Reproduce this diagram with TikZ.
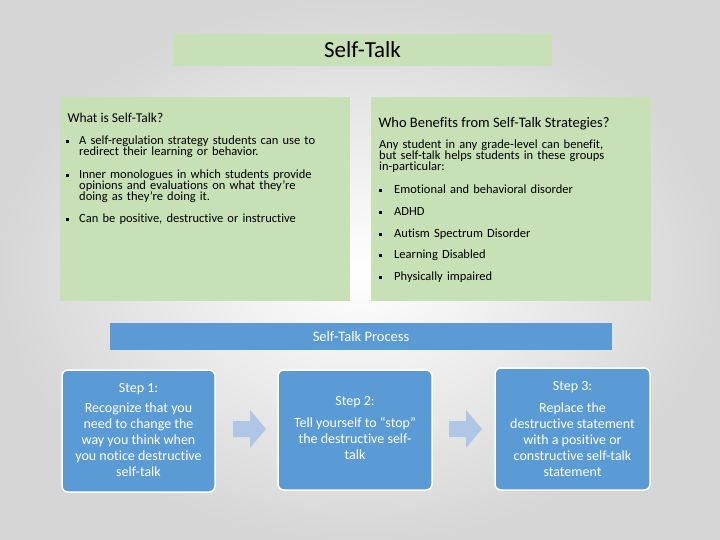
\documentclass[tikz,border=0pt]{standalone}
\usepackage{fontspec}
\setmainfont{Carlito}[Ligatures=NoCommon]
\definecolor{grn}{HTML}{C8E0B6}
\definecolor{blu}{HTML}{5B9BD5}
\definecolor{arr}{HTML}{AFC6E6}
\newcommand{\sq}{\raisebox{1.5pt}{\rule{3pt}{3pt}}}
\tikzset{
 panel/.style={fill=grn,draw=none},
 stepbox/.style={fill=blu,draw=white,line width=1.5pt,rounded corners=6pt},
 steptext/.style={text=white,align=center,font=\fontsize{14}{16}\selectfont},
 bul/.style={anchor=north west,align=left,font=\fontsize{12.5}{11}\selectfont,text width=255pt,inner sep=0pt},
 bigarrow/.style={fill=arr,draw=none}
}
\begin{document}
\begin{tikzpicture}[x=1pt,y=-1pt]
\shade[inner color=white,outer color=gray!32] (0,0) rectangle (720,540);
\useasboundingbox (0,0) rectangle (720,540);
\node[panel,minimum width=379pt,minimum height=32pt] (title) at (362.5,50) {\fontsize{23}{24}\selectfont Self-Talk};
\path[panel] (60,97) rectangle (350,301);
\path[panel] (371,97) rectangle (651,301);
\node[anchor=west,font=\fontsize{13.5}{14}\selectfont] (lh) at (64,118) {What is Self-Talk?};
\node[bul] (l1) at (66,136) {\sq\hspace{10pt}\parbox[t]{248pt}{A self-regulation strategy students can use to redirect their learning or behavior.}};
\node[bul] (l2) at (66,170) {\sq\hspace{10pt}\parbox[t]{242pt}{Inner monologues in which students provide opinions and evaluations on what they're doing as they're doing it.}};
\node[bul] (l3) at (66,214) {\sq\hspace{10pt}\parbox[t]{248pt}{Can be positive, destructive or instructive}};
\node[anchor=west,font=\fontsize{14.5}{15}\selectfont] (rh) at (375,124) {Who Benefits from Self-Talk Strategies?};
\node[bul,text width=250pt] (r0) at (379,140) {Any student in any grade-level can benefit, but self-talk helps students in these groups in-particular:};
\node[bul] (r1) at (379,185) {\sq\hspace{12pt}Emotional and behavioral disorder};
\node[bul] (r2) at (379,207) {\sq\hspace{12pt}ADHD};
\node[bul] (r3) at (379,229) {\sq\hspace{12pt}Autism Spectrum Disorder};
\node[bul] (r4) at (379,250) {\sq\hspace{12pt}Learning Disabled};
\node[bul] (r5) at (379,272) {\sq\hspace{12pt}Physically impaired};
\node[fill=blu,minimum width=502pt,minimum height=27pt,text=white,font=\fontsize{14.5}{15}\selectfont] (proc) at (361,336.5) {Self-Talk Process};
\draw[stepbox] (62,370) rectangle (215,492);
\draw[stepbox] (278,370) rectangle (432,490);
\draw[stepbox] (495,368) rectangle (650,490);
\node[steptext] (s1) at (138.5,430) {Step 1:\\[4pt]Recognize that you\\need to change the\\way you think when\\you notice destructive\\self-talk};
\node[steptext] (s2) at (355,428) {Step 2:\\[6pt]Tell yourself to “stop”\\the destructive self-\\talk};
\node[steptext] (s3) at (572.5,429) {Step 3:\\[6pt]Replace the\\destructive statement\\with a positive or\\constructive self-talk\\statement};
\path[bigarrow] (233,421) -- (250,421) -- (250,410) -- (266,429) -- (250,448) -- (250,437) -- (233,437) -- cycle;
\path[bigarrow] (449,421) -- (466,421) -- (466,410) -- (482,429) -- (466,448) -- (466,437) -- (449,437) -- cycle;
\end{tikzpicture}
\end{document}
